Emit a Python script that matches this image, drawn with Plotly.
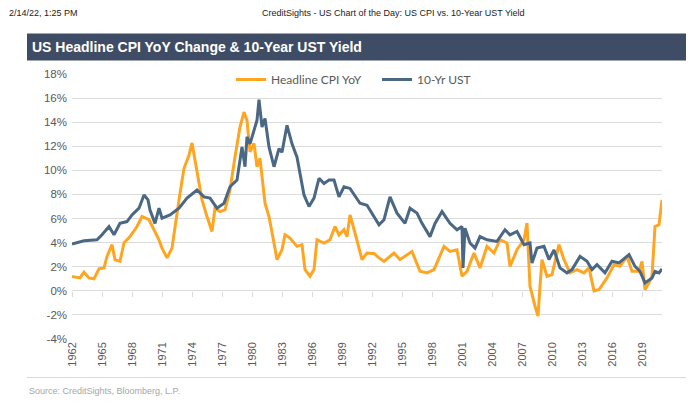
import plotly.graph_objects as go

# ---------------- data (x in chart-axis years) ----------------
cpi_years = [1962.0, 1962.8, 1963.2, 1963.7, 1964.2, 1964.7, 1965.2, 1965.5, 1966.0, 1966.3,
             1966.8, 1967.2, 1967.8, 1968.5, 1969.0, 1969.7, 1970.2, 1970.7, 1971.0, 1971.5,
             1972.0, 1972.3, 1972.7, 1973.2, 1973.7, 1974.0, 1974.5, 1975.0, 1975.5, 1976.0,
             1976.3, 1976.8, 1977.3, 1977.8, 1978.3, 1978.8, 1979.2, 1979.5, 1979.8, 1980.2,
             1980.5, 1980.8, 1981.3, 1981.7, 1982.2, 1982.5, 1983.0, 1983.3, 1983.8, 1984.5,
             1985.0, 1985.3, 1985.8, 1986.2, 1986.5, 1987.2, 1987.8, 1988.3, 1988.7, 1989.2,
             1989.5, 1989.8, 1990.3, 1990.7, 1991.0, 1991.5, 1992.2, 1992.7, 1993.2, 1994.2,
             1994.8, 1996.0, 1996.8, 1997.5, 1998.2, 1999.2, 1999.8, 2000.5, 2001.0, 2001.5,
             2002.2, 2002.8, 2003.5, 2004.2, 2004.8, 2005.5, 2005.8, 2006.5, 2007.2, 2007.5,
             2007.8, 2008.3, 2008.6, 2008.8, 2009.0, 2009.5, 2010.0, 2010.7, 2011.2, 2011.8,
             2012.5, 2013.2, 2013.7, 2014.2, 2014.7, 2015.5, 2016.2, 2016.8, 2017.5, 2018.0,
             2018.7, 2019.0, 2019.3, 2019.7, 2020.0, 2020.3, 2020.7, 2021.0]
cpi_vals = [1.20, 1.07, 1.54, 1.07, 1.00, 1.82, 1.90, 2.86, 3.83, 2.59,
            2.45, 3.97, 4.50, 5.34, 6.17, 5.90, 5.07, 4.24, 3.55, 2.73,
            3.55, 5.34, 7.55, 10.17, 11.26, 12.28, 9.75, 7.55, 6.17, 4.93,
            6.86, 6.58, 6.72, 8.37, 11.12, 13.60, 14.84, 14.16, 11.54, 12.23,
            10.30, 11.00, 7.27, 6.17, 3.97, 2.59, 3.41, 4.65, 4.38, 3.69,
            3.83, 1.76, 1.21, 1.76, 4.24, 3.97, 4.24, 5.34, 4.65, 5.07,
            4.50, 6.30, 4.80, 3.41, 2.59, 3.14, 3.10, 2.73, 2.45, 3.14,
            2.59, 3.27, 1.62, 1.49, 1.76, 3.69, 3.27, 3.41, 1.21, 1.62,
            3.14, 1.90, 3.69, 3.14, 4.24, 3.97, 2.03, 3.41, 4.24, 5.62,
            0.38, -1.27, -2.10, 0.38, 2.59, 1.21, 1.35, 3.83, 2.59, 1.49,
            1.76, 1.49, 1.90, 0.00, 0.10, 1.07, 2.17, 2.03, 2.86, 1.62,
            1.62, 2.45, 0.10, 0.66, 1.21, 5.34, 5.48, 7.55]

ust_years = [1962.0, 1963.2, 1964.5, 1965.0, 1965.7, 1966.2, 1966.8, 1967.5, 1968.0, 1968.7,
             1969.2, 1969.6, 1969.8, 1970.3, 1970.7, 1971.0, 1971.8, 1972.7, 1973.5, 1974.5,
             1975.2, 1975.8, 1976.5, 1977.2, 1977.8, 1978.5, 1979.0, 1979.3, 1979.5, 1979.8,
             1980.5, 1980.7, 1981.0, 1981.3, 1981.7, 1982.2, 1982.7, 1983.0, 1983.5, 1984.0,
             1984.5, 1985.2, 1985.7, 1986.2, 1986.7, 1987.2, 1987.7, 1988.2, 1988.7, 1989.2,
             1989.8, 1990.8, 1991.5, 1992.7, 1993.2, 1993.8, 1994.5, 1995.3, 1995.8, 1996.5,
             1997.0, 1997.8, 1998.3, 1999.0, 1999.8, 2000.5, 2001.0, 2001.1, 2001.3, 2001.8,
             2002.3, 2002.8, 2003.5, 2004.5, 2005.3, 2005.8, 2006.5, 2007.2, 2007.8, 2008.0,
             2008.5, 2009.2, 2009.7, 2010.2, 2010.8, 2011.5, 2012.0, 2012.8, 2013.5, 2014.0,
             2014.5, 2015.3, 2016.0, 2016.7, 2017.7, 2018.3, 2018.8, 2019.3, 2020.0, 2020.3,
             2020.7, 2021.0]
ust_vals = [3.88, 4.16, 4.24, 4.65, 5.34, 4.65, 5.60, 5.75, 6.30, 6.86,
            7.96, 7.55, 6.70, 5.60, 6.86, 6.03, 6.30, 6.86, 7.70, 8.37,
            7.80, 7.70, 6.86, 7.27, 8.64, 9.20, 11.95, 10.30, 12.78, 12.20,
            14.16, 15.87, 13.60, 14.30, 11.95, 10.30, 11.80, 11.50, 13.74, 12.20,
            11.10, 7.96, 7.00, 7.70, 9.34, 8.90, 9.20, 9.20, 7.80, 8.64,
            8.50, 7.27, 7.10, 5.48, 5.90, 7.80, 6.45, 5.60, 6.86, 6.45,
            5.60, 4.50, 5.60, 6.58, 5.60, 5.07, 5.34, 1.90, 5.20, 3.97,
            3.55, 4.50, 4.24, 4.10, 5.07, 4.65, 4.93, 3.83, 3.97, 2.30,
            3.55, 3.70, 2.60, 3.40, 1.90, 1.49, 1.76, 2.86, 2.45, 1.76,
            2.17, 1.49, 2.45, 2.31, 3.00, 2.03, 1.62, 0.66, 1.07, 1.62,
            1.49, 1.82]

tick_years = list(range(1962, 2020, 3))
tick_labels = [str(y) for y in tick_years]
y_ticks = list(range(-4, 19, 2))
y_tick_labels = [f"{v}%" for v in y_ticks]

CPI_COLOR = "#FFA51F"
UST_COLOR = "#4A6784"

# ---------------- layout geometry (pixels) ----------------
W, H = 700, 407
ML, MR, MT, MB = 72, 38, 73.5, 67.7
PW, PH = W - ML - MR, H - MT - MB


def fx(px):
    return (px - ML) / PW


def fy(py):
    return (H - MB - py) / PH


fig = go.Figure()
fig.add_trace(go.Scatter(x=cpi_years, y=cpi_vals, mode="lines", name="Headline CPI YoY",
                         line=dict(color=CPI_COLOR, width=3)))
fig.add_trace(go.Scatter(x=ust_years, y=ust_vals, mode="lines", name="10-Yr UST",
                         line=dict(color=UST_COLOR, width=3)))
# helper trace for the tick-mark axis crossing at 0%
fig.add_trace(go.Scatter(x=[tick_years[0]], y=[None], xaxis="x2", showlegend=False,
                         hoverinfo="skip", mode="lines"))

y_min, y_max = -4, 18
zero_pos = (0 - y_min) / (y_max - y_min)

fig.update_layout(
    width=W, height=H,
    margin=dict(l=ML, r=MR, t=MT, b=MB),
    paper_bgcolor="white", plot_bgcolor="white",
    font=dict(family="Liberation Sans, Arial", color="#595959"),
    xaxis=dict(range=[1962, 2021], tickmode="array", tickvals=tick_years, ticktext=tick_labels,
               tickangle=-90, showgrid=False, zeroline=False, showline=False, ticks="",
               tickfont=dict(size=11, color="#595959", family="Liberation Sans, Arial")),
    xaxis2=dict(overlaying="x", anchor="free", position=zero_pos, side="bottom",
                range=[1962, 2021], tickmode="array", tickvals=tick_years,
                showticklabels=False, ticks="outside", ticklen=5, tickcolor="#d9d9d9",
                showgrid=False, zeroline=False, showline=False),
    yaxis=dict(range=[y_min, y_max], tickmode="array", tickvals=y_ticks, ticktext=y_tick_labels,
               showgrid=True, gridcolor="#DCDCDC", gridwidth=1, zeroline=False,
               tickfont=dict(size=11.5, color="#595959", family="Liberation Sans, Arial"),
               ticklabelstandoff=4),
    showlegend=True,
    legend=dict(orientation="h", x=fx(231), y=fy(79), xanchor="left", yanchor="middle",
                font=dict(family="Lato, Carlito, sans-serif", size=12, color="#595959"),
                bgcolor="rgba(255,255,255,0)", itemwidth=30, tracegroupgap=0,
                entrywidth=101, entrywidthmode="pixels"),
    shapes=[
        dict(type="rect", xref="paper", yref="paper", x0=fx(27), x1=fx(686),
             y0=fy(60), y1=fy(33), fillcolor="#3F4C66", line=dict(width=0), layer="below"),
        dict(type="line", xref="paper", yref="paper", x0=fx(27), x1=fx(686),
             y0=fy(378), y1=fy(378), line=dict(color="#D9D9D9", width=1)),
    ],
    annotations=[
        dict(text="2/14/22, 1:25 PM", xref="paper", yref="paper", x=fx(7), y=fy(12),
             xanchor="left", yanchor="middle", showarrow=False,
             font=dict(size=9, color="#222222", family="Liberation Sans, Arial")),
        dict(text="CreditSights - US Chart of the Day: US CPI vs. 10-Year UST Yield",
             xref="paper", yref="paper", x=fx(393), y=fy(12), xanchor="center",
             yanchor="middle", showarrow=False,
             font=dict(size=9, color="#222222", family="Liberation Sans, Arial")),
        dict(text="<b>US Headline CPI YoY Change &amp; 10-Year UST Yield</b>", xref="paper",
             yref="paper", x=fx(30), y=fy(46.5), xanchor="left", yanchor="middle",
             showarrow=False, font=dict(size=14, color="white", family="Liberation Sans, Arial")),
        dict(text="Source: CreditSights, Bloomberg, L.P.", xref="paper", yref="paper",
             x=fx(27), y=fy(391), xanchor="left", yanchor="middle", showarrow=False,
             font=dict(size=9, color="#A6A6A6", family="Liberation Sans, Arial")),
    ],
)

fig.write_html("out.html")
